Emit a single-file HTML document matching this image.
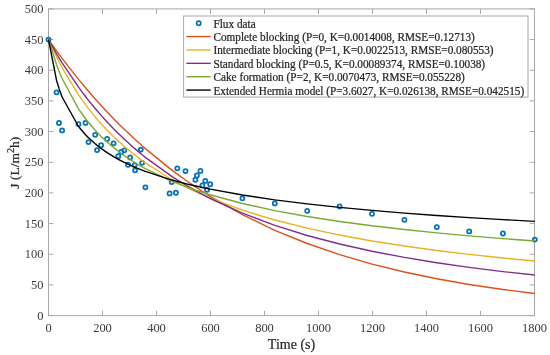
<!DOCTYPE html>
<html><head><meta charset="utf-8"><style>
html,body{margin:0;padding:0;background:#fff;width:550px;height:355px;overflow:hidden}
svg{display:block}
text{font-family:"Liberation Serif",serif}
.lg{fill:#262626;stroke:#262626;stroke-width:0.22}
.tk{fill:#3a3a3a;stroke:#3a3a3a;stroke-width:0}
.lb{fill:#262626;stroke:#262626;stroke-width:0.2}
</style></head><body>
<svg width="550" height="355" viewBox="0 0 550 355">
<rect width="550" height="355" fill="#fff"/>

<path d="M48.50 315.60V310.70 M48.50 8.90V13.80 M102.50 315.60V310.70 M102.50 8.90V13.80 M156.50 315.60V310.70 M156.50 8.90V13.80 M210.50 315.60V310.70 M210.50 8.90V13.80 M264.50 315.60V310.70 M264.50 8.90V13.80 M318.50 315.60V310.70 M318.50 8.90V13.80 M372.50 315.60V310.70 M372.50 8.90V13.80 M426.50 315.60V310.70 M426.50 8.90V13.80 M480.50 315.60V310.70 M480.50 8.90V13.80 M534.50 315.60V310.70 M534.50 8.90V13.80 M48.50 315.60H53.40 M534.50 315.60H529.60 M48.50 284.93H53.40 M534.50 284.93H529.60 M48.50 254.26H53.40 M534.50 254.26H529.60 M48.50 223.59H53.40 M534.50 223.59H529.60 M48.50 192.92H53.40 M534.50 192.92H529.60 M48.50 162.25H53.40 M534.50 162.25H529.60 M48.50 131.58H53.40 M534.50 131.58H529.60 M48.50 100.91H53.40 M534.50 100.91H529.60 M48.50 70.24H53.40 M534.50 70.24H529.60 M48.50 39.57H53.40 M534.50 39.57H529.60 M48.50 8.90H53.40 M534.50 8.90H529.60" stroke="#a8a8a8" stroke-width="1.0" fill="none"/>
<rect x="48.50" y="8.90" width="486.00" height="306.70" fill="none" stroke="#a8a8a8" stroke-width="1.0"/>
<g fill="none" stroke="#0072BD" stroke-width="1.75">
<circle cx="48.5" cy="39.6" r="2.05"/>
<circle cx="56.5" cy="92.3" r="2.05"/>
<circle cx="59.0" cy="123.0" r="2.05"/>
<circle cx="62.1" cy="130.4" r="2.05"/>
<circle cx="78.5" cy="124.2" r="2.05"/>
<circle cx="85.5" cy="122.9" r="2.05"/>
<circle cx="88.5" cy="142.1" r="2.05"/>
<circle cx="95.2" cy="134.8" r="2.05"/>
<circle cx="97.1" cy="150.1" r="2.05"/>
<circle cx="101.1" cy="145.2" r="2.05"/>
<circle cx="107.1" cy="138.9" r="2.05"/>
<circle cx="113.6" cy="143.3" r="2.05"/>
<circle cx="118.3" cy="156.2" r="2.05"/>
<circle cx="121.3" cy="152.0" r="2.05"/>
<circle cx="124.3" cy="150.3" r="2.05"/>
<circle cx="128.0" cy="164.7" r="2.05"/>
<circle cx="130.1" cy="157.4" r="2.05"/>
<circle cx="134.6" cy="165.1" r="2.05"/>
<circle cx="135.1" cy="170.3" r="2.05"/>
<circle cx="140.8" cy="149.6" r="2.05"/>
<circle cx="142.1" cy="162.8" r="2.05"/>
<circle cx="145.4" cy="187.3" r="2.05"/>
<circle cx="169.6" cy="193.4" r="2.05"/>
<circle cx="171.7" cy="182.1" r="2.05"/>
<circle cx="175.9" cy="192.7" r="2.05"/>
<circle cx="177.3" cy="168.3" r="2.05"/>
<circle cx="185.5" cy="171.1" r="2.05"/>
<circle cx="195.4" cy="179.7" r="2.05"/>
<circle cx="196.9" cy="175.5" r="2.05"/>
<circle cx="200.4" cy="170.9" r="2.05"/>
<circle cx="202.4" cy="185.5" r="2.05"/>
<circle cx="205.3" cy="180.9" r="2.05"/>
<circle cx="207.0" cy="189.7" r="2.05"/>
<circle cx="210.2" cy="184.2" r="2.05"/>
<circle cx="242.4" cy="198.3" r="2.05"/>
<circle cx="274.8" cy="203.4" r="2.05"/>
<circle cx="307.2" cy="210.8" r="2.05"/>
<circle cx="339.6" cy="206.5" r="2.05"/>
<circle cx="372.0" cy="213.8" r="2.05"/>
<circle cx="404.4" cy="219.8" r="2.05"/>
<circle cx="436.8" cy="227.1" r="2.05"/>
<circle cx="469.2" cy="231.4" r="2.05"/>
<circle cx="502.9" cy="233.5" r="2.05"/>
<circle cx="534.8" cy="239.6" r="2.05"/>
</g>
<g fill="none" stroke-width="1.4" stroke-linejoin="round">
<path d="M48.50 39.57 L56.50 50.79 L59.00 54.20 L62.10 58.38 L78.50 79.36 L85.50 87.78 L88.50 91.30 L95.20 98.96 L97.10 101.09 L101.10 105.49 L107.10 111.93 L113.60 118.69 L118.30 123.43 L121.30 126.40 L124.30 129.32 L128.00 132.86 L130.10 134.84 L134.60 139.01 L135.10 139.47 L140.80 144.60 L142.10 145.75 L145.40 148.64 L169.60 168.34 L171.70 169.93 L175.90 173.07 L177.30 174.10 L185.50 180.00 L195.40 186.79 L196.90 187.78 L200.40 190.08 L202.40 191.38 L205.30 193.24 L207.00 194.31 L210.20 196.31 L242.40 214.66 L274.80 230.28 L307.20 243.48 L339.60 254.64 L372.00 264.07 L404.40 272.04 L436.80 278.78 L469.20 284.48 L502.90 289.47 L534.80 293.46" stroke="#D95319"/>
<path d="M48.50 39.57 L56.50 56.83 L59.00 61.79 L62.10 67.68 L78.50 94.80 L85.50 104.65 L88.50 108.61 L95.20 116.93 L97.10 119.17 L101.10 123.72 L107.10 130.17 L113.60 136.69 L118.30 141.12 L121.30 143.83 L124.30 146.47 L128.00 149.61 L130.10 151.33 L134.60 154.92 L135.10 155.31 L140.80 159.62 L142.10 160.57 L145.40 162.93 L169.60 178.25 L171.70 179.44 L175.90 181.75 L177.30 182.51 L185.50 186.75 L195.40 191.53 L196.90 192.23 L200.40 193.82 L202.40 194.71 L205.30 195.97 L207.00 196.70 L210.20 198.05 L242.40 210.11 L274.80 219.99 L307.20 228.17 L339.60 235.06 L372.00 240.94 L404.40 246.03 L436.80 250.46 L469.20 254.37 L502.90 257.96 L534.80 260.99" stroke="#EDB120"/>
<path d="M48.50 39.57 L56.50 53.63 L59.00 57.80 L62.10 62.84 L78.50 87.19 L85.50 96.52 L88.50 100.35 L95.20 108.54 L97.10 110.77 L101.10 115.37 L107.10 121.97 L113.60 128.77 L118.30 133.46 L121.30 136.36 L124.30 139.20 L128.00 142.60 L130.10 144.49 L134.60 148.43 L135.10 148.86 L140.80 153.65 L142.10 154.71 L145.40 157.36 L169.60 174.94 L171.70 176.33 L175.90 179.04 L177.30 179.92 L185.50 184.94 L195.40 190.64 L196.90 191.47 L200.40 193.38 L202.40 194.45 L205.30 195.97 L207.00 196.86 L210.20 198.49 L242.40 213.20 L274.80 225.37 L307.20 235.50 L339.60 244.01 L372.00 251.23 L404.40 257.42 L436.80 262.75 L469.20 267.38 L502.90 271.58 L534.80 275.07" stroke="#7E2F8E"/>
<path d="M48.50 39.57 L56.50 64.54 L59.00 71.05 L62.10 78.47 L78.50 108.88 L85.50 118.72 L88.50 122.53 L95.20 130.30 L97.10 132.33 L101.10 136.41 L107.10 142.05 L113.60 147.59 L118.30 151.28 L121.30 153.51 L124.30 155.66 L128.00 158.19 L130.10 159.57 L134.60 162.42 L135.10 162.73 L140.80 166.10 L142.10 166.84 L145.40 168.67 L169.60 180.28 L171.70 181.16 L175.90 182.88 L177.30 183.43 L185.50 186.56 L195.40 190.06 L196.90 190.56 L200.40 191.72 L202.40 192.36 L205.30 193.28 L207.00 193.81 L210.20 194.79 L242.40 203.48 L274.80 210.57 L307.20 216.46 L339.60 221.46 L372.00 225.78 L404.40 229.55 L436.80 232.88 L469.20 235.85 L502.90 238.63 L534.80 241.01" stroke="#77AC30"/>
<path d="M48.50 39.57 L56.50 80.19 L59.00 88.40 L62.10 96.98 L78.50 126.47 L85.50 134.69 L88.50 137.75 L95.20 143.81 L97.10 145.37 L101.10 148.44 L107.10 152.61 L113.60 156.64 L118.30 159.28 L121.30 160.87 L124.30 162.39 L128.00 164.16 L130.10 165.13 L134.60 167.12 L135.10 167.33 L140.80 169.66 L142.10 170.17 L145.40 171.43 L169.60 179.35 L171.70 179.94 L175.90 181.10 L177.30 181.48 L185.50 183.60 L195.40 185.96 L196.90 186.30 L200.40 187.08 L202.40 187.52 L205.30 188.14 L207.00 188.49 L210.20 189.16 L242.40 195.04 L274.80 199.86 L307.20 203.91 L339.60 207.38 L372.00 210.41 L404.40 213.08 L436.80 215.46 L469.20 217.61 L502.90 219.64 L534.80 221.39" stroke="#000000"/>
</g>
<g>
<text transform="translate(48.50 331.50) scale(1 1.07)" font-size="12.5" text-anchor="middle" class="tk">0</text>
<text transform="translate(102.50 331.50) scale(1 1.07)" font-size="12.5" text-anchor="middle" class="tk">200</text>
<text transform="translate(156.50 331.50) scale(1 1.07)" font-size="12.5" text-anchor="middle" class="tk">400</text>
<text transform="translate(210.50 331.50) scale(1 1.07)" font-size="12.5" text-anchor="middle" class="tk">600</text>
<text transform="translate(264.50 331.50) scale(1 1.07)" font-size="12.5" text-anchor="middle" class="tk">800</text>
<text transform="translate(318.50 331.50) scale(1 1.07)" font-size="12.5" text-anchor="middle" class="tk">1000</text>
<text transform="translate(372.50 331.50) scale(1 1.07)" font-size="12.5" text-anchor="middle" class="tk">1200</text>
<text transform="translate(426.50 331.50) scale(1 1.07)" font-size="12.5" text-anchor="middle" class="tk">1400</text>
<text transform="translate(480.50 331.50) scale(1 1.07)" font-size="12.5" text-anchor="middle" class="tk">1600</text>
<text transform="translate(534.50 331.50) scale(1 1.07)" font-size="12.5" text-anchor="middle" class="tk">1800</text>
<text transform="translate(43.50 319.60) scale(1 1.07)" font-size="12.5" text-anchor="end" class="tk">0</text>
<text transform="translate(43.50 288.93) scale(1 1.07)" font-size="12.5" text-anchor="end" class="tk">50</text>
<text transform="translate(43.50 258.26) scale(1 1.07)" font-size="12.5" text-anchor="end" class="tk">100</text>
<text transform="translate(43.50 227.59) scale(1 1.07)" font-size="12.5" text-anchor="end" class="tk">150</text>
<text transform="translate(43.50 196.92) scale(1 1.07)" font-size="12.5" text-anchor="end" class="tk">200</text>
<text transform="translate(43.50 166.25) scale(1 1.07)" font-size="12.5" text-anchor="end" class="tk">250</text>
<text transform="translate(43.50 135.58) scale(1 1.07)" font-size="12.5" text-anchor="end" class="tk">300</text>
<text transform="translate(43.50 104.91) scale(1 1.07)" font-size="12.5" text-anchor="end" class="tk">350</text>
<text transform="translate(43.50 74.24) scale(1 1.07)" font-size="12.5" text-anchor="end" class="tk">400</text>
<text transform="translate(43.50 43.57) scale(1 1.07)" font-size="12.5" text-anchor="end" class="tk">450</text>
<text transform="translate(43.50 12.90) scale(1 1.07)" font-size="12.5" text-anchor="end" class="tk">500</text>
</g>
<text x="291.50" y="348.50" font-size="14" text-anchor="middle" class="lb">Time (s)</text>
<text class="lb" transform="translate(19.4,162.8) rotate(-90)" font-size="13.5" text-anchor="middle">J (L/m<tspan font-size="10" dy="-5">2</tspan><tspan dy="5">h)</tspan></text>
<rect x="183.6" y="16.0" width="344.4" height="81.1" fill="#fff" stroke="#a8a8a8" stroke-width="1.0"/>
<circle cx="198.7" cy="23.20" r="2.05" fill="none" stroke="#0072BD" stroke-width="1.75"/>
<text transform="translate(213.50 27.70) scale(1 1.07)" font-size="11.25" class="lg">Flux data</text>
<path d="M186.4 36.58H210.7" stroke="#D95319" stroke-width="1.4"/>
<text transform="translate(213.50 41.08) scale(1 1.07)" font-size="11.25" class="lg">Complete blocking (P=0, K=0.0014008, RMSE=0.12713)</text>
<path d="M186.4 49.95H210.7" stroke="#EDB120" stroke-width="1.4"/>
<text transform="translate(213.50 54.45) scale(1 1.07)" font-size="11.25" class="lg">Intermediate blocking (P=1, K=0.0022513, RMSE=0.080553)</text>
<path d="M186.4 63.33H210.7" stroke="#7E2F8E" stroke-width="1.4"/>
<text transform="translate(213.50 67.83) scale(1 1.07)" font-size="11.25" class="lg">Standard blocking (P=0.5, K=0.00089374, RMSE=0.10038)</text>
<path d="M186.4 76.70H210.7" stroke="#77AC30" stroke-width="1.4"/>
<text transform="translate(213.50 81.20) scale(1 1.07)" font-size="11.25" class="lg">Cake formation (P=2, K=0.0070473, RMSE=0.055228)</text>
<path d="M186.4 90.08H210.7" stroke="#000000" stroke-width="1.4"/>
<text transform="translate(213.50 94.58) scale(1 1.07)" font-size="11.25" class="lg">Extended Hermia model (P=3.6027, K=0.026138, RMSE=0.042515)</text>
</svg></body></html>
